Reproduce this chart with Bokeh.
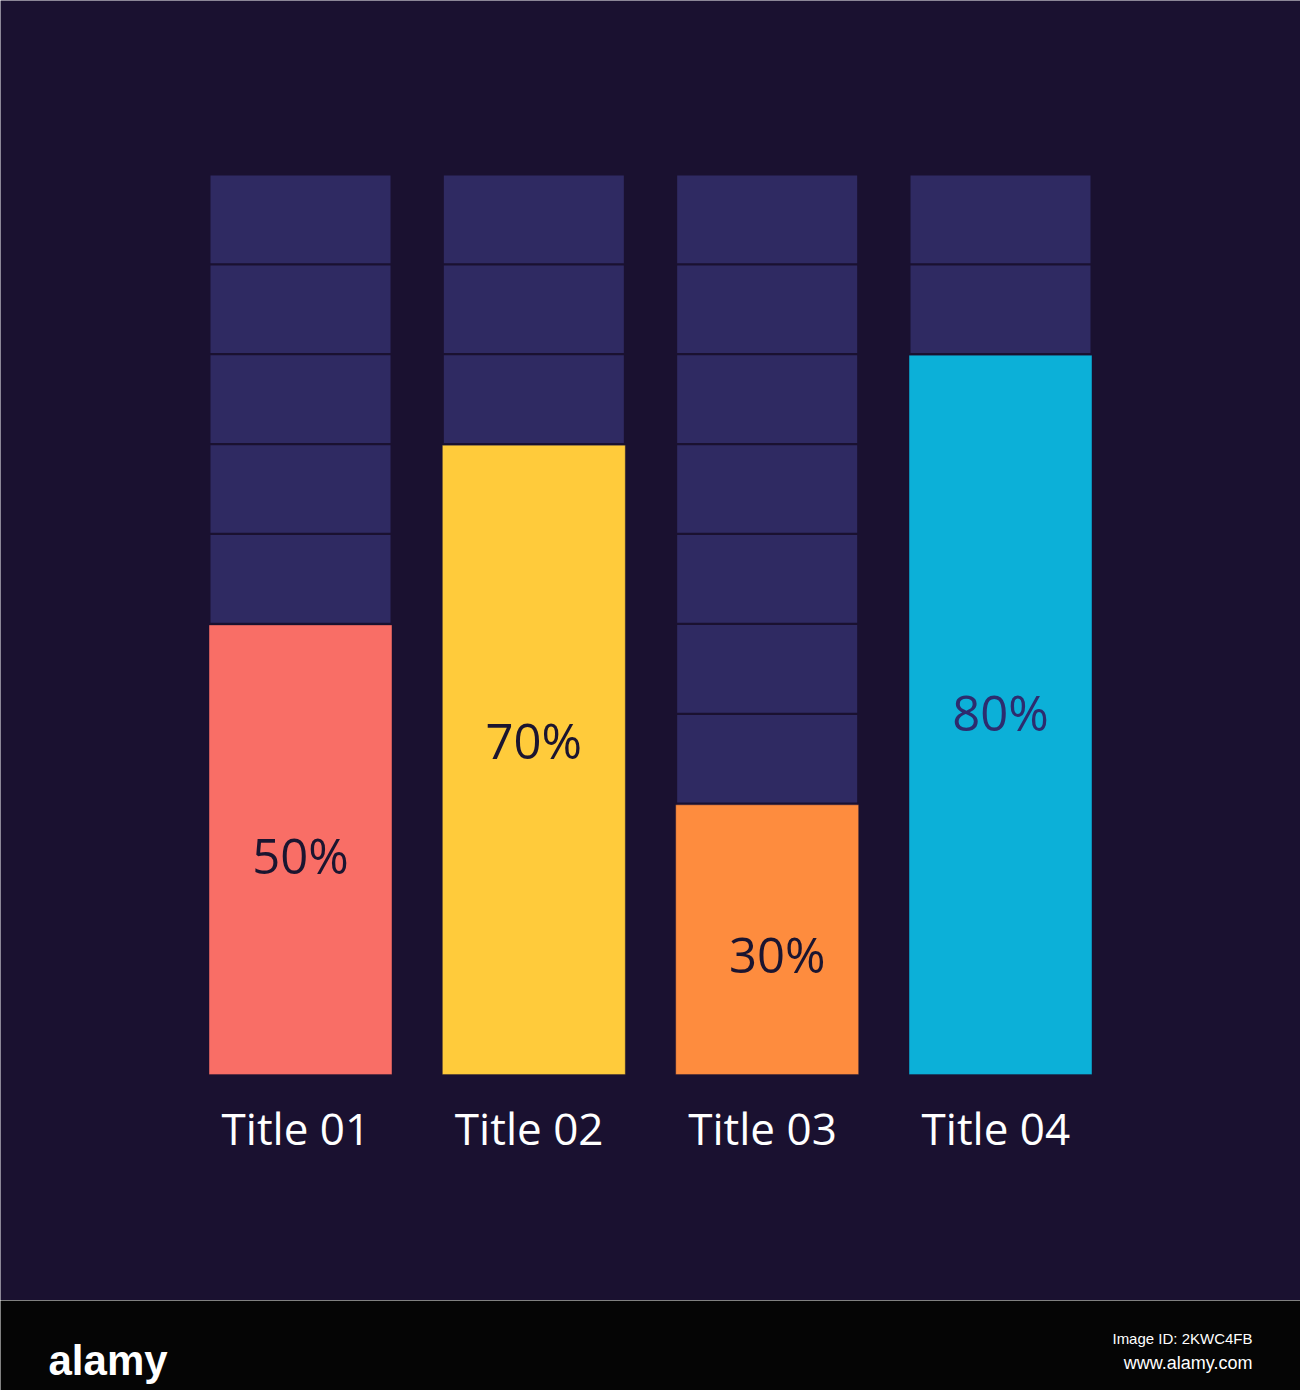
from bokeh.plotting import figure
from bokeh.models import Range1d, ColumnDataSource
from bokeh.layouts import column
from bokeh.core.properties import value
from bokeh.embed import file_html
from bokeh.resources import INLINE

# ---- data ----
titles = ["Title 01", "Title 02", "Title 03", "Title 04"]
percents = [50, 70, 30, 80]
labels = ["50%", "70%", "30%", "80%"]
n_segments = 10  # track split into 10 blocks of 10%

# ---- styles / layout ----
BG = "#1a1130"
TRACK = "#2f2a62"
bar_colors = ["#f96e66", "#ffcb3b", "#fe8c3e", "#0cb0d8"]
label_colors = ["#1b1530", "#1b1530", "#1b1530", "#2d2c6e"]
label_base = [24.4, 37.2, 13.4, 40.3]   # baseline of % labels (value units)
label_dx = [0.0, 0.0, 0.043, 0.0]
FONT = "Open Sans"

W, H = 1300, 1300
p = figure(width=W, height=H, output_backend="svg", toolbar_location=None,
           x_range=Range1d(-1.2857, 4.2857), y_range=Range1d(-25.14, 119.47),
           min_border=0, background_fill_color=BG, border_fill_color=BG)
p.axis.visible = False
p.grid.visible = False
p.outline_line_color = None

xs = list(range(len(titles)))

# track segments
seg_x, seg_b, seg_t = [], [], []
for i in xs:
    for k in range(n_segments):
        seg_x.append(i)
        seg_b.append(k * 10 + 0.25)
        seg_t.append(k * 10 + 10)
p.vbar(x=seg_x, bottom=seg_b, top=seg_t, width=0.7715,
       fill_color=TRACK, line_color=None)

# value bars
src = ColumnDataSource(dict(x=xs, top=percents, color=bar_colors))
p.vbar(x="x", bottom=0, top="top", width=0.784, source=src,
       fill_color="color", line_color="#1a1130", line_alpha=0.35, line_width=1)

# % labels
p.text(x=[x + d for x, d in zip(xs, label_dx)], y=label_base, text=labels,
       text_color=label_colors, text_font=value(FONT), text_font_size="49px",
       text_align="center", text_baseline="alphabetic")

# titles
p.text(x=[x - 0.02 for x in xs], y=[-5.9] * len(xs), text=titles,
       text_color="#ffffff", text_font=value(FONT), text_font_size="44px",
       text_align="center", text_baseline="alphabetic")

# bottom band
band = figure(width=W, height=90, output_backend="svg", toolbar_location=None,
              x_range=Range1d(0, W), y_range=Range1d(90, 0), min_border=0,
              background_fill_color="#050505", border_fill_color="#050505")
band.axis.visible = False
band.grid.visible = False
band.outline_line_color = None
band.text(x=[48], y=[60], text=["alamy"], text_color="#ffffff",
          text_font=value("Liberation Sans"), text_font_style="bold",
          text_font_size="42px", text_baseline="alphabetic")
band.text(x=[1252, 1252], y=[38, 62], text=["Image ID: 2KWC4FB", "www.alamy.com"],
          text_color="#ffffff", text_font=value("Liberation Sans"),
          text_font_size=["15px", "18px"], text_align="right",
          text_baseline="alphabetic")

layout = column(p, band, spacing=0)
open("out.html", "w").write(file_html(layout, INLINE))
